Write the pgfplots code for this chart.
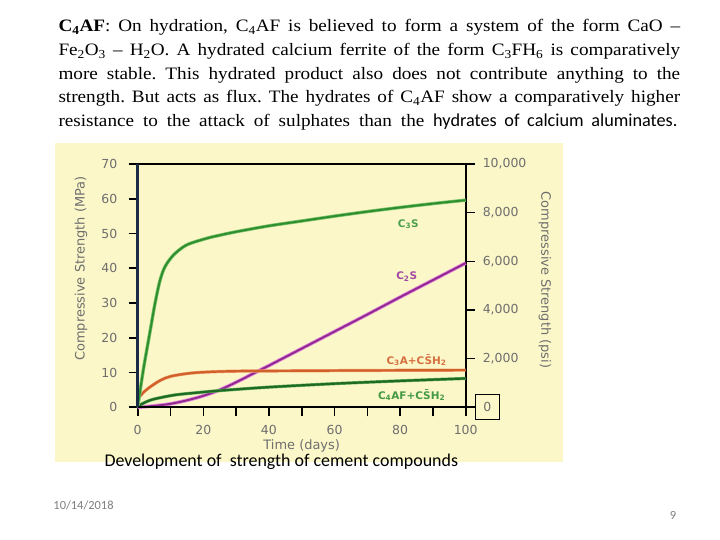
\documentclass[border=0pt]{standalone}
\usepackage{fontspec}
\setmainfont{Liberation Serif}[FakeStretch=1.1]
\newfontfamily\sans{DejaVu Sans}
\newfontfamily\calibri{Carlito}
\usepackage{pgfplots}
\pgfplotsset{compat=1.18}
\definecolor{beige}{HTML}{FBF7C9}
\definecolor{tickgray}{HTML}{6E6E6E}
\definecolor{navy}{HTML}{1C2B45}
\definecolor{cthreeS}{HTML}{2F8F2F}
\definecolor{cthreeShalo}{HTML}{7CC46A}
\definecolor{ctwoS}{HTML}{922A92}
\definecolor{ctwoShalo}{HTML}{E68ADE}
\definecolor{cthreeA}{HTML}{D2602A}
\definecolor{cthreeAhalo}{HTML}{EFA070}
\definecolor{cfourAF}{HTML}{1F6A25}
\definecolor{cfourAFhalo}{HTML}{6DB560}
\definecolor{dategray}{HTML}{808080}
\frenchspacing
\begin{document}
\begin{tikzpicture}
\useasboundingbox (0,0) rectangle (720bp,540bp);
\fill[white] (0,0) rectangle (720bp,540bp);
% paragraph
\node[anchor=base west, inner sep=0] at (58.3bp,508.3bp) {\fontsize{17.5}{21}\selectfont\makebox[621.7bp][s]{\textbf{C\textsubscript{4}AF}: On hydration, C\textsubscript{4}AF is believed to form a system of the form CaO –}};
\node[anchor=base west, inner sep=0] at (58.3bp,484.3bp) {\fontsize{17.5}{21}\selectfont\makebox[621.7bp][s]{Fe\textsubscript{2}O\textsubscript{3} – H\textsubscript{2}O. A hydrated calcium ferrite of the form C\textsubscript{3}FH\textsubscript{6} is comparatively}};
\node[anchor=base west, inner sep=0] at (58.3bp,460.7bp) {\fontsize{17.5}{21}\selectfont\makebox[621.7bp][s]{more stable. This hydrated product also does not contribute anything to the}};
\node[anchor=base west, inner sep=0] at (58.3bp,437.2bp) {\fontsize{17.5}{21}\selectfont\makebox[621.7bp][s]{strength. But acts as flux. The hydrates of C\textsubscript{4}AF show a comparatively higher}};
\node[anchor=base west, inner sep=0] at (58.3bp,413.7bp) {\fontsize{17.5}{21}\selectfont\makebox[619bp][s]{resistance to the attack of sulphates than the {\calibri\fontsize{18.3}{21}\selectfont hydrates of calcium aluminates.}}};
% chart background
\fill[beige] (55bp,78bp) rectangle (563bp,397bp);
% right axis (psi)
\begin{axis}[at={(137.7bp,132.7bp)}, anchor=south west, scale only axis,
  width=328bp, height=243.3bp,
  xmin=0, xmax=100, ymin=0, ymax=10000,
  axis x line=none, axis y line*=right,
  axis line style={black, line width=1.4bp, -},
  scaled y ticks=false,
  ytick={2000,4000,6000,8000,10000},
  yticklabels={{2,000},{4,000},{6,000},{8,000},{10,000}},
  extra y ticks={0}, extra y tick labels={0},
  extra y tick style={yticklabel style={draw=black, line width=0.9bp, text=tickgray, minimum width=24bp, minimum height=25bp, xshift=-4.5bp}},
  tick align=outside, major tick length=9bp,
  tick style={black, line width=1.6bp},
  ticklabel style={font=\sans\fontsize{12.5}{14}\selectfont, text=tickgray},
  yticklabel style={xshift=4.6bp},
  /pgf/number format/assume math mode=true,
]
\addplot[draw=none] coordinates {(0,0) (100,10000)};
\end{axis}
% left axis (MPa)
\begin{axis}[at={(137.7bp,132.7bp)}, anchor=south west, scale only axis,
  width=328bp, height=243.3bp,
  xmin=0, xmax=100, ymin=0, ymax=70,
  xtick={0,20,...,100}, minor xtick={10,30,...,90},
  ytick={0,10,...,70},
  xtick pos=bottom, ytick pos=left,
  tick align=outside, major tick length=9bp, minor tick length=9bp,
  tick style={black, line width=1.6bp},
  axis line style={black, line width=1.6bp},
  ticklabel style={font=\sans\fontsize{12.5}{14}\selectfont, text=tickgray},
  yticklabel style={xshift=-8bp},
  xticklabel style={yshift=-5bp},
  /pgf/number format/assume math mode=true,
  clip=false,
]
% C2S
\addplot[ctwoShalo, line width=3.6bp, smooth, tension=0.5] coordinates {(0,0) (5,0.4) (10,1.0) (15,2.0) (20,3.3) (25,5.0) (30,7.2) (35,9.6) (40,12.0) (50,16.9) (60,21.8) (70,26.7) (80,31.7) (90,36.6) (100,41.5)};
\addplot[ctwoS, line width=2.0bp, smooth, tension=0.5] coordinates {(0,0) (5,0.4) (10,1.0) (15,2.0) (20,3.3) (25,5.0) (30,7.2) (35,9.6) (40,12.0) (50,16.9) (60,21.8) (70,26.7) (80,31.7) (90,36.6) (100,41.5)};
% C4AF
\addplot[cfourAFhalo, line width=3.2bp, smooth, tension=0.5] coordinates {(0,0.3) (4,2.1) (11,3.5) (18,4.2) (25,4.8) (40,5.8) (60,6.8) (80,7.6) (100,8.3)};
\addplot[cfourAF, line width=2.2bp, smooth, tension=0.5] coordinates {(0,0.3) (4,2.1) (11,3.5) (18,4.2) (25,4.8) (40,5.8) (60,6.8) (80,7.6) (100,8.3)};
% C3A
\addplot[cthreeAhalo, line width=3.2bp, smooth, tension=0.5] coordinates {(0,2.5) (2,4.5) (4,6) (7,7.8) (10,8.9) (15,9.7) (20,10.1) (30,10.4) (50,10.5) (70,10.6) (100,10.7)};
\addplot[cthreeA, line width=2.2bp, smooth, tension=0.5] coordinates {(0,2.5) (2,4.5) (4,6) (7,7.8) (10,8.9) (15,9.7) (20,10.1) (30,10.4) (50,10.5) (70,10.6) (100,10.7)};
% C3S
\addplot[cthreeShalo, line width=3.4bp, smooth, tension=0.5] coordinates {(0,0) (1.7,10.7) (3.8,22) (5.3,30) (6.8,36.5) (8.3,40.4) (10.9,43.8) (14.9,46.7) (21,48.6) (25,49.5) (30,50.5) (40,52.2) (50,53.6) (60,55.0) (70,56.3) (80,57.5) (90,58.6) (100,59.6)};
\addplot[cthreeS, line width=2.0bp, smooth, tension=0.5] coordinates {(0,0) (1.7,10.7) (3.8,22) (5.3,30) (6.8,36.5) (8.3,40.4) (10.9,43.8) (14.9,46.7) (21,48.6) (25,49.5) (30,50.5) (40,52.2) (50,53.6) (60,55.0) (70,56.3) (80,57.5) (90,58.6) (100,59.6)};
% spines
\draw[black, line width=2.4bp] (rel axis cs:0,0) -- (rel axis cs:1,0);
\draw[black, line width=1.8bp] (rel axis cs:0,1) -- (rel axis cs:1,1);
\draw[navy, line width=3bp] (rel axis cs:0,0) -- (rel axis cs:0,1);
% curve labels
\node[font=\sans\bfseries\fontsize{10.5}{12}\selectfont, text=cthreeS!85!white] at (axis cs:82.5,52.7) {C\textsubscript{3}S};
\node[font=\sans\bfseries\fontsize{10.5}{12}\selectfont, text=ctwoS!85!white] at (axis cs:82,37.6) {C\textsubscript{2}S};
\node[font=\sans\bfseries\fontsize{10.5}{12}\selectfont, text=cthreeA!90!white] at (axis cs:85,13.6) {C\textsubscript{3}A+CS̄H\textsubscript{2}};
\node[font=\sans\bfseries\fontsize{10.5}{12}\selectfont, text=cthreeS!90!white] at (axis cs:83.5,3.5) {C\textsubscript{4}AF+CS̄H\textsubscript{2}};
\end{axis}
% axis labels
\node[font=\sans\fontsize{13}{15}\selectfont, text=tickgray, rotate=90] at (81bp,271.5bp) {Compressive Strength (MPa)};
\node[font=\sans\fontsize{13}{15}\selectfont, text=tickgray, rotate=-90] at (545bp,260bp) {Compressive Strength (psi)};
\node[font=\sans\fontsize{13}{15}\selectfont, text=tickgray] at (301.7bp,94bp) {Time (days)};
% caption
\node[anchor=base west, inner sep=0, font=\calibri\fontsize{18}{21}\selectfont] at (104.3bp,73.3bp) {Development of\ \ strength of cement compounds};
% footer
\node[font=\calibri\fontsize{12.5}{14}\selectfont, text=dategray] at (83.5bp,34.5bp) {10/14/2018};
\node[font=\calibri\fontsize{12.5}{14}\selectfont, text=dategray] at (673bp,25bp) {9};
\end{tikzpicture}
\end{document}
